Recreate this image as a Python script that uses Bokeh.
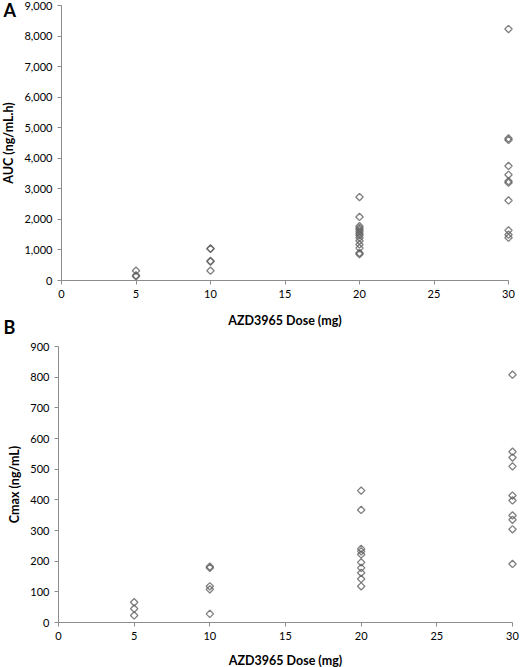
import numpy as np
from bokeh.plotting import figure
from bokeh.layouts import column
from bokeh.models import Range1d, NumeralTickFormatter, FixedTicker, Label
from bokeh.embed import file_html
from bokeh.resources import INLINE

# ---- data ----
dose_levels = [5, 10, 20, 30]

auc_5 = [320, 165, 135]
auc_10 = [1050, 1035, 640, 620, 320]
auc_20 = [2730, 2080, 1780, 1720, 1660, 1600, 1540, 1480, 1400, 1300, 1180, 1060, 900, 860]
auc_30 = [8230, 4650, 4600, 3750, 3460, 3250, 3200, 2620, 1640, 1500, 1400]

cmax_5 = [66, 45, 23]
cmax_10 = [182, 178, 118, 108, 28]
cmax_20 = [430, 367, 240, 232, 222, 196, 178, 162, 142, 118]
cmax_30 = [808, 557, 538, 509, 414, 398, 349, 335, 304, 191]

x_ticks = [0, 5, 10, 15, 20, 25, 30]
auc_ticks = [0, 1000, 2000, 3000, 4000, 5000, 6000, 7000, 8000, 9000]
cmax_ticks = [0, 100, 200, 300, 400, 500, 600, 700, 800, 900]

FONT = "Lato"
AXIS_COLOR = "#8c8c8c"
MARK_COLOR = "#5f5f5f"
W = 520


def flatten(groups):
    xs, ys = [], []
    for d, vals in zip(dose_levels, groups):
        xs += [d] * len(vals)
        ys += vals
    return xs, ys


def make_fig(height, ymax, yticks, ylabel, px_x0, px_x30, px_ytop, px_y0, ystand, xstand, yfmt=None):
    # the frame fills the whole canvas; axes are pinned at data 0 with fixed_location
    kx = (px_x30 - px_x0) / 30.0
    ky = (px_y0 - px_ytop) / float(ymax)
    x_start = -px_x0 / kx
    x_end = x_start + W / kx
    y_end = ymax + px_ytop / ky
    y_start = -(height - px_y0) / ky
    p = figure(width=W, height=height, output_backend="svg", toolbar_location=None,
               x_range=Range1d(x_start, x_end), y_range=Range1d(y_start, y_end),
               min_border=0)
    p.outline_line_color = None
    p.grid.visible = False
    p.background_fill_color = "white"
    p.border_fill_color = "white"
    for ax in (p.xaxis[0], p.yaxis[0]):
        ax.fixed_location = 0
        ax.axis_line_color = AXIS_COLOR
        ax.major_tick_line_color = AXIS_COLOR
        ax.minor_tick_line_color = None
        ax.major_tick_in = 0
        ax.major_tick_out = 4
        ax.major_label_text_font = FONT
        ax.major_label_text_font_size = "11px"
        ax.major_label_text_color = "black"
        ax.axis_label_text_font = FONT
        ax.axis_label_text_font_size = "12.5px"
        ax.axis_label_text_font_style = "bold"
        ax.axis_label_text_color = "black"
    p.xaxis.ticker = FixedTicker(ticks=x_ticks)
    p.xaxis.bounds = (0, 30)
    p.xaxis.axis_label = "AZD3965 Dose (mg)"
    p.xaxis.axis_label_standoff = xstand
    p.yaxis.ticker = FixedTicker(ticks=yticks)
    p.yaxis.bounds = (0, ymax)
    p.yaxis.axis_label = ylabel
    p.yaxis.axis_label_standoff = ystand
    if yfmt:
        p.yaxis.formatter = NumeralTickFormatter(format=yfmt)
    return p


def letter(fig, text, px_left, px_baseline):
    fig.add_layout(Label(x=px_left, y=fig.height - px_baseline, x_units="screen", y_units="screen",
                         text=text, text_font=FONT, text_font_size="18px",
                         text_font_style="bold", text_baseline="alphabetic",
                         text_color="black"))


# Panel A (canvas rows 0..336)
H_A = 336
pa = make_fig(H_A, 9000, auc_ticks, "AUC (ng/mL.h)", 61, 508, 5, 280, 5, 12, yfmt="0,0")
xa, ya = flatten([auc_5, auc_10, auc_20, auc_30])
pa.scatter(x=xa, y=ya, marker="square", angle=np.pi / 4, size=5.2,
           fill_color=None, line_color=MARK_COLOR, line_width=1.3, line_alpha=0.8)
letter(pa, "A", 3, 9)
letter(pa, "B", 3, 326)

# Panel B (canvas rows 336..667)
H_B = 331
pb = make_fig(H_B, 900, cmax_ticks, "Cmax (ng/mL)", 58, 512, 346 - H_A, 622 - H_A, 5, 10)
xb, yb = flatten([cmax_5, cmax_10, cmax_20, cmax_30])
pb.scatter(x=xb, y=yb, marker="square", angle=np.pi / 4, size=5.2,
           fill_color=None, line_color=MARK_COLOR, line_width=1.3, line_alpha=0.8)

layout = column(pa, pb, spacing=0)
open("out.html", "w").write(file_html(layout, INLINE))
